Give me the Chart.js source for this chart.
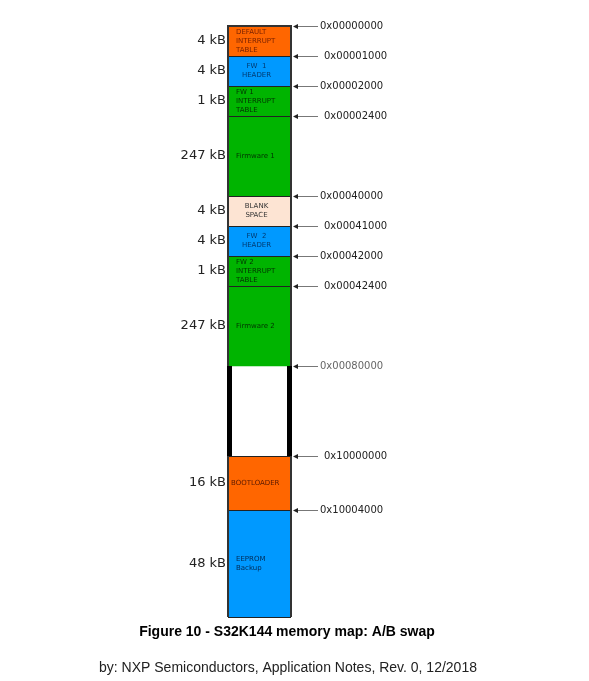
<!DOCTYPE html>
<html><head><meta charset="utf-8">
<script src="https://cdn.jsdelivr.net/npm/chart.js@4"></script>
<style>html,body{margin:0;padding:0;background:#fff;}#w{position:relative;width:589px;height:681px;}</style>
</head><body><div id="w"><canvas id="c" width="589" height="681"></canvas></div>
<script>
// Memory regions (top to bottom), drawn heights
const regions = ["DEFAULT\nINTERRUPT\nTABLE","FW  1\nHEADER","FW 1\nINTERRUPT\nTABLE","Firmware 1","BLANK\nSPACE","FW  2\nHEADER","FW 2\nINTERRUPT\nTABLE","Firmware 2","","BOOTLOADER","EEPROM\nBackup"];
const sizes = ["4 kB","4 kB","1 kB","247 kB","4 kB","4 kB","1 kB","247 kB","","16 kB","48 kB"];
const heights = [30,30,30,80,30,30,30,80,90,54,107];
const colors = ["#ff6600","#0099ff","#00b400","#00b400","#fde4d3","#0099ff","#00b400","#00b400","#ffffff","#ff6600","#0099ff"];
const addresses = ["0x00000000","0x00001000","0x00002000","0x00002400","0x00040000","0x00041000","0x00042000","0x00042400","0x00080000","0x10000000","0x10004000"];
const textColors = ["#7a2200","#003a70","#003300","#003300","#333333","#003a70","#003300","#003300","#000","#5a1a00","#002a55"];

const datasets = heights.map((h,i)=>({data:[h],backgroundColor:colors[i],borderWidth:0,barPercentage:1,categoryPercentage:1,stack:"m"}));

const deco = {
  id:"deco",
  afterDatasetsDraw(chart){
    const ctx=chart.ctx, y=chart.scales.y, a=chart.chartArea;
    const L=a.left, R=a.right;
    let cum=0;
    const bounds=[];
    heights.forEach(h=>{bounds.push(cum);cum+=h;});
    bounds.push(cum);
    ctx.save();
    // divider lines
    ctx.strokeStyle="#222";ctx.lineWidth=1;
    bounds.forEach((b,i)=>{
      if(i==8) return;
      const py=Math.round(y.getPixelForValue(b))+0.5;
      ctx.beginPath();ctx.moveTo(L,py);ctx.lineTo(R,py);ctx.stroke();
    });
    // outer borders
    const t=y.getPixelForValue(0), g1=y.getPixelForValue(bounds[8]), g2=y.getPixelForValue(bounds[9]), bt=y.getPixelForValue(cum);
    ctx.lineWidth=2;ctx.strokeStyle="#333";
    ctx.beginPath();ctx.moveTo(L,t);ctx.lineTo(L,g1);ctx.moveTo(R,t);ctx.lineTo(R,g1);
    ctx.moveTo(L-1,t);ctx.lineTo(R+1,t);
    ctx.moveTo(L,g2);ctx.lineTo(L,bt);ctx.moveTo(R,g2);ctx.lineTo(R,bt);ctx.stroke();
    ctx.fillStyle="#000";
    ctx.fillRect(L-1,g1,5,g2-g1);ctx.fillRect(R-4,g1,5,g2-g1);
    // region text
    regions.forEach((r,i)=>{
      if(!r) return;
      const c=(y.getPixelForValue(bounds[i])+y.getPixelForValue(bounds[i+1]))/2;
      const lines=r.split("\n");
      ctx.font="7px 'DejaVu Sans'";ctx.fillStyle=textColors[i];ctx.textBaseline="middle";
      const single = lines.length==1 && i!=3 && i!=7;
      const center = i==1||i==4||i==5;
      lines.forEach((ln,k)=>{
        const py=c+(k-(lines.length-1)/2)*9;
        if(center){ctx.textAlign="center";ctx.fillText(ln,(L+R)/2-3,py);}
        else{ctx.textAlign="left";ctx.fillText(ln,L+(i==9?3:8),py);}
      });
      // size label
      ctx.font="13px 'DejaVu Sans'";ctx.fillStyle="#222";ctx.textAlign="right";
      ctx.fillText(sizes[i],L-2,c);
    });
    // address arrows
    addresses.forEach((ad,i)=>{
      const py=Math.round(y.getPixelForValue(bounds[i]));
      ctx.strokeStyle="#777";ctx.lineWidth=1;
      ctx.beginPath();ctx.moveTo(R+3,py+0.5);ctx.lineTo(R+27,py+0.5);ctx.stroke();
      ctx.fillStyle="#222";
      ctx.beginPath();ctx.moveTo(R+2,py+0.5);ctx.lineTo(R+7,py-2);ctx.lineTo(R+7,py+3);ctx.closePath();ctx.fill();
      ctx.font="10px 'DejaVu Sans'";ctx.textAlign="left";ctx.textBaseline="middle";
      ctx.fillStyle=i==8?"#666":"#222";
      ctx.fillText(ad,R+(i%2==1||i==3?33:29),py);
    });
    // captions
    ctx.fillStyle="#000";ctx.textAlign="center";
    ctx.font="bold 14px 'Liberation Sans'";
    ctx.fillText("Figure 10 - S32K144 memory map: A/B swap",287,632);
    ctx.font="14px 'Liberation Sans'";ctx.fillStyle="#222";
    ctx.fillText("by: NXP Semiconductors, Application Notes, Rev. 0, 12/2018",288,668);
    ctx.restore();
  }
};

new Chart(document.getElementById("c"),{
  type:"bar",
  data:{labels:["map"],datasets},
  options:{
    responsive:false,animation:false,
    layout:{padding:{left:228,right:298,top:26,bottom:64}},
    plugins:{legend:{display:false},tooltip:{enabled:false}},
    scales:{
      x:{display:false,stacked:true},
      y:{display:false,stacked:true,reverse:true,min:0,max:591}
    }
  },
  plugins:[deco]
});
</script></body></html>
